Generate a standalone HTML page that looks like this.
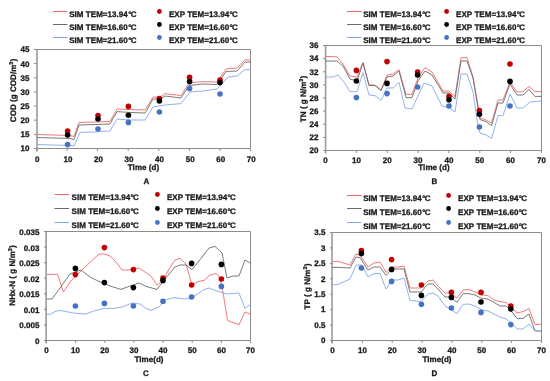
<!DOCTYPE html>
<html><head><meta charset="utf-8"><style>
html,body{margin:0;padding:0;background:#fff;width:550px;height:381px;overflow:hidden}
svg{display:block;will-change:transform;filter:blur(0.3px)}
svg{text-rendering:geometricPrecision;-webkit-font-smoothing:antialiased}
text{font-family:"Liberation Sans",sans-serif;font-weight:bold;fill:#1a1a1a;stroke:#1a1a1a;stroke-width:0.3px;letter-spacing:0.05px}
</style></head><body>
<svg width="550" height="381" viewBox="0 0 550 381">
<rect width="550" height="381" fill="#fff"/>
<line x1="53" y1="11.5" x2="67.5" y2="11.5" stroke="#EC6A6C" stroke-width="1"/>
<text x="69.2" y="17.3" text-anchor="start" font-size="8" >SIM TEM=13.94<tspan dx="0.3">°</tspan><tspan dx="-0.8">C</tspan></text>
<circle cx="159.4" cy="11.5" r="2.4" fill="#C00000"/>
<text x="168.9" y="17.3" text-anchor="start" font-size="8" >EXP TEM=13.94<tspan dx="0.3">°</tspan><tspan dx="-0.8">C</tspan></text>
<line x1="53" y1="24.5" x2="67.5" y2="24.5" stroke="#6A6A6A" stroke-width="1"/>
<text x="69.2" y="30.3" text-anchor="start" font-size="8" >SIM TEM=16.60<tspan dx="0.3">°</tspan><tspan dx="-0.8">C</tspan></text>
<circle cx="159.4" cy="24.5" r="2.4" fill="#000000"/>
<text x="168.9" y="30.3" text-anchor="start" font-size="8" >EXP TEM=16.60<tspan dx="0.3">°</tspan><tspan dx="-0.8">C</tspan></text>
<line x1="53" y1="37.5" x2="67.5" y2="37.5" stroke="#86A8EA" stroke-width="1"/>
<text x="69.2" y="43.3" text-anchor="start" font-size="8" >SIM TEM=21.60<tspan dx="0.3">°</tspan><tspan dx="-0.8">C</tspan></text>
<circle cx="159.4" cy="37.5" r="2.4" fill="#4472C4"/>
<text x="168.9" y="43.3" text-anchor="start" font-size="8" >EXP TEM=21.60<tspan dx="0.3">°</tspan><tspan dx="-0.8">C</tspan></text>
<polyline points="36.5,49.5 250.5,49.5 250.5,148.5 34.0,148.5" fill="none" stroke="#8C8C8C" stroke-width="1"/>
<line x1="37.0" y1="49.0" x2="37.0" y2="151.5" stroke="#9A9A9A" stroke-width="1.6"/>
<line x1="34.0" y1="148.5" x2="36.5" y2="148.5" stroke="#8C8C8C" stroke-width="1"/>
<text x="29.5" y="151.4" text-anchor="end" font-size="8" >10</text>
<line x1="34.0" y1="134.4" x2="36.5" y2="134.4" stroke="#8C8C8C" stroke-width="1"/>
<text x="29.5" y="137.3" text-anchor="end" font-size="8" >15</text>
<line x1="34.0" y1="120.2" x2="36.5" y2="120.2" stroke="#8C8C8C" stroke-width="1"/>
<text x="29.5" y="123.1" text-anchor="end" font-size="8" >20</text>
<line x1="34.0" y1="106.1" x2="36.5" y2="106.1" stroke="#8C8C8C" stroke-width="1"/>
<text x="29.5" y="109.0" text-anchor="end" font-size="8" >25</text>
<line x1="34.0" y1="91.9" x2="36.5" y2="91.9" stroke="#8C8C8C" stroke-width="1"/>
<text x="29.5" y="94.8" text-anchor="end" font-size="8" >30</text>
<line x1="34.0" y1="77.8" x2="36.5" y2="77.8" stroke="#8C8C8C" stroke-width="1"/>
<text x="29.5" y="80.7" text-anchor="end" font-size="8" >35</text>
<line x1="34.0" y1="63.6" x2="36.5" y2="63.6" stroke="#8C8C8C" stroke-width="1"/>
<text x="29.5" y="66.5" text-anchor="end" font-size="8" >40</text>
<line x1="34.0" y1="49.5" x2="36.5" y2="49.5" stroke="#8C8C8C" stroke-width="1"/>
<text x="29.5" y="52.4" text-anchor="end" font-size="8" >45</text>
<line x1="36.5" y1="148.5" x2="36.5" y2="151.0" stroke="#8C8C8C" stroke-width="1"/>
<text x="37.3" y="162.0" text-anchor="middle" font-size="8" >0</text>
<line x1="67.1" y1="148.5" x2="67.1" y2="151.0" stroke="#8C8C8C" stroke-width="1"/>
<text x="67.9" y="162.0" text-anchor="middle" font-size="8" >10</text>
<line x1="97.6" y1="148.5" x2="97.6" y2="151.0" stroke="#8C8C8C" stroke-width="1"/>
<text x="98.4" y="162.0" text-anchor="middle" font-size="8" >20</text>
<line x1="128.2" y1="148.5" x2="128.2" y2="151.0" stroke="#8C8C8C" stroke-width="1"/>
<text x="129.0" y="162.0" text-anchor="middle" font-size="8" >30</text>
<line x1="158.8" y1="148.5" x2="158.8" y2="151.0" stroke="#8C8C8C" stroke-width="1"/>
<text x="159.6" y="162.0" text-anchor="middle" font-size="8" >40</text>
<line x1="189.4" y1="148.5" x2="189.4" y2="151.0" stroke="#8C8C8C" stroke-width="1"/>
<text x="190.2" y="162.0" text-anchor="middle" font-size="8" >50</text>
<line x1="219.9" y1="148.5" x2="219.9" y2="151.0" stroke="#8C8C8C" stroke-width="1"/>
<text x="220.7" y="162.0" text-anchor="middle" font-size="8" >60</text>
<line x1="250.5" y1="148.5" x2="250.5" y2="151.0" stroke="#8C8C8C" stroke-width="1"/>
<text x="251.3" y="162.0" text-anchor="middle" font-size="8" >70</text>
<text transform="translate(15.5,90.5) rotate(-90)" text-anchor="middle" font-size="8">COD (g COD/m<tspan font-size="5.5" dy="-3">3</tspan><tspan dy="3">)</tspan></text>
<text x="143.5" y="169.8" text-anchor="middle" font-size="8" >Time (d)</text>
<text x="146.5" y="183.5" text-anchor="middle" font-size="8" >A</text>
<polyline points="37.0,134.5 70.0,135.5 74.0,136.5 79.0,122.5 95.0,122.0 110.0,121.5 117.0,109.0 130.0,109.5 145.0,110.0 147.0,107.0 153.0,97.0 160.0,97.0 165.0,93.6 181.0,95.5 189.0,83.0 203.0,81.6 217.0,82.0 226.0,69.0 237.0,68.0 245.0,59.6 251.0,60.0" fill="none" stroke="#EC6A6C" stroke-width="0.9" stroke-linejoin="round"/>
<polyline points="37.0,137.5 70.0,138.5 74.0,139.5 79.0,125.0 95.0,124.5 110.0,124.0 117.0,111.6 130.0,112.5 145.0,113.0 147.0,110.0 153.0,99.0 160.0,99.0 165.0,96.0 181.0,98.0 189.0,85.5 203.0,84.0 217.0,84.5 226.0,71.5 237.0,71.0 245.0,62.0 251.0,62.0" fill="none" stroke="#6A6A6A" stroke-width="0.9" stroke-linejoin="round"/>
<polyline points="37.0,144.5 70.0,145.5 74.0,146.0 80.0,132.4 95.0,132.0 110.0,131.0 117.0,119.0 130.0,120.0 145.0,120.0 147.0,117.0 153.0,107.0 165.0,105.0 181.0,103.6 190.0,92.0 203.0,91.0 217.0,89.0 228.0,77.0 237.0,76.0 245.0,69.6 251.0,69.6" fill="none" stroke="#86A8EA" stroke-width="0.9" stroke-linejoin="round"/>
<circle cx="67.6" cy="131.0" r="2.8" fill="#C00000"/>
<circle cx="67.6" cy="135.0" r="2.8" fill="#000000"/>
<circle cx="67.6" cy="144.6" r="2.8" fill="#4472C4"/>
<circle cx="98.0" cy="115.6" r="2.8" fill="#C00000"/>
<circle cx="98.0" cy="119.0" r="2.8" fill="#000000"/>
<circle cx="98.0" cy="129.0" r="2.8" fill="#4472C4"/>
<circle cx="128.4" cy="106.4" r="2.8" fill="#C00000"/>
<circle cx="128.4" cy="115.2" r="2.8" fill="#000000"/>
<circle cx="128.4" cy="122.4" r="2.8" fill="#4472C4"/>
<circle cx="159.4" cy="98.6" r="2.8" fill="#C00000"/>
<circle cx="159.4" cy="101.0" r="2.8" fill="#000000"/>
<circle cx="159.4" cy="112.0" r="2.8" fill="#4472C4"/>
<circle cx="189.6" cy="77.4" r="2.8" fill="#C00000"/>
<circle cx="189.6" cy="81.6" r="2.8" fill="#000000"/>
<circle cx="189.6" cy="88.6" r="2.8" fill="#4472C4"/>
<circle cx="220.0" cy="80.0" r="2.8" fill="#C00000"/>
<circle cx="220.0" cy="82.6" r="2.8" fill="#000000"/>
<circle cx="220.0" cy="94.0" r="2.8" fill="#4472C4"/>
<line x1="347" y1="11.5" x2="361.5" y2="11.5" stroke="#EC6A6C" stroke-width="1"/>
<text x="363.2" y="17.3" text-anchor="start" font-size="8" >SIM TEM=13.94<tspan dx="0.3">°</tspan><tspan dx="-0.8">C</tspan></text>
<circle cx="446.6" cy="11.5" r="2.4" fill="#C00000"/>
<text x="456.1" y="17.3" text-anchor="start" font-size="8" >EXP TEM=13.94<tspan dx="0.3">°</tspan><tspan dx="-0.8">C</tspan></text>
<line x1="347" y1="24.5" x2="361.5" y2="24.5" stroke="#6A6A6A" stroke-width="1"/>
<text x="363.2" y="30.3" text-anchor="start" font-size="8" >SIM TEM=16.60<tspan dx="0.3">°</tspan><tspan dx="-0.8">C</tspan></text>
<circle cx="446.6" cy="24.5" r="2.4" fill="#000000"/>
<text x="456.1" y="30.3" text-anchor="start" font-size="8" >EXP TEM=16.60<tspan dx="0.3">°</tspan><tspan dx="-0.8">C</tspan></text>
<line x1="347" y1="37.5" x2="361.5" y2="37.5" stroke="#86A8EA" stroke-width="1"/>
<text x="363.2" y="43.3" text-anchor="start" font-size="8" >SIM TEM=21.60<tspan dx="0.3">°</tspan><tspan dx="-0.8">C</tspan></text>
<circle cx="446.6" cy="37.5" r="2.4" fill="#4472C4"/>
<text x="456.1" y="43.3" text-anchor="start" font-size="8" >EXP TEM=21.60<tspan dx="0.3">°</tspan><tspan dx="-0.8">C</tspan></text>
<polyline points="325.5,45.5 541.5,45.5 541.5,150.5 323.0,150.5" fill="none" stroke="#8C8C8C" stroke-width="1"/>
<line x1="325.6" y1="45.0" x2="325.6" y2="153.5" stroke="#9A9A9A" stroke-width="1.6"/>
<line x1="323.0" y1="150.5" x2="325.5" y2="150.5" stroke="#8C8C8C" stroke-width="1"/>
<text x="318.5" y="153.3" text-anchor="end" font-size="8" >20</text>
<line x1="323.0" y1="137.4" x2="325.5" y2="137.4" stroke="#8C8C8C" stroke-width="1"/>
<text x="318.5" y="140.2" text-anchor="end" font-size="8" >22</text>
<line x1="323.0" y1="124.2" x2="325.5" y2="124.2" stroke="#8C8C8C" stroke-width="1"/>
<text x="318.5" y="127.0" text-anchor="end" font-size="8" >24</text>
<line x1="323.0" y1="111.1" x2="325.5" y2="111.1" stroke="#8C8C8C" stroke-width="1"/>
<text x="318.5" y="113.9" text-anchor="end" font-size="8" >26</text>
<line x1="323.0" y1="98.0" x2="325.5" y2="98.0" stroke="#8C8C8C" stroke-width="1"/>
<text x="318.5" y="100.8" text-anchor="end" font-size="8" >28</text>
<line x1="323.0" y1="84.9" x2="325.5" y2="84.9" stroke="#8C8C8C" stroke-width="1"/>
<text x="318.5" y="87.7" text-anchor="end" font-size="8" >30</text>
<line x1="323.0" y1="71.8" x2="325.5" y2="71.8" stroke="#8C8C8C" stroke-width="1"/>
<text x="318.5" y="74.5" text-anchor="end" font-size="8" >32</text>
<line x1="323.0" y1="58.6" x2="325.5" y2="58.6" stroke="#8C8C8C" stroke-width="1"/>
<text x="318.5" y="61.4" text-anchor="end" font-size="8" >34</text>
<line x1="323.0" y1="45.5" x2="325.5" y2="45.5" stroke="#8C8C8C" stroke-width="1"/>
<text x="318.5" y="48.3" text-anchor="end" font-size="8" >36</text>
<line x1="325.5" y1="150.5" x2="325.5" y2="153.0" stroke="#8C8C8C" stroke-width="1"/>
<text x="325.5" y="163.1" text-anchor="middle" font-size="8" >0</text>
<line x1="356.4" y1="150.5" x2="356.4" y2="153.0" stroke="#8C8C8C" stroke-width="1"/>
<text x="356.4" y="163.1" text-anchor="middle" font-size="8" >10</text>
<line x1="387.2" y1="150.5" x2="387.2" y2="153.0" stroke="#8C8C8C" stroke-width="1"/>
<text x="387.2" y="163.1" text-anchor="middle" font-size="8" >20</text>
<line x1="418.1" y1="150.5" x2="418.1" y2="153.0" stroke="#8C8C8C" stroke-width="1"/>
<text x="418.1" y="163.1" text-anchor="middle" font-size="8" >30</text>
<line x1="448.9" y1="150.5" x2="448.9" y2="153.0" stroke="#8C8C8C" stroke-width="1"/>
<text x="448.9" y="163.1" text-anchor="middle" font-size="8" >40</text>
<line x1="479.8" y1="150.5" x2="479.8" y2="153.0" stroke="#8C8C8C" stroke-width="1"/>
<text x="479.8" y="163.1" text-anchor="middle" font-size="8" >50</text>
<line x1="510.6" y1="150.5" x2="510.6" y2="153.0" stroke="#8C8C8C" stroke-width="1"/>
<text x="510.6" y="163.1" text-anchor="middle" font-size="8" >60</text>
<line x1="541.5" y1="150.5" x2="541.5" y2="153.0" stroke="#8C8C8C" stroke-width="1"/>
<text x="541.5" y="163.1" text-anchor="middle" font-size="8" >70</text>
<text transform="translate(305.5,99) rotate(-90)" text-anchor="middle" font-size="8">TN ( g N/m<tspan font-size="5.5" dy="-3">3</tspan><tspan dy="3">)</tspan></text>
<text x="434.0" y="169.8" text-anchor="middle" font-size="8" >Time (d)</text>
<text x="434.5" y="183.5" text-anchor="middle" font-size="8" >B</text>
<polyline points="325.5,56.4 337.0,56.8 343.0,64.0 350.0,76.0 357.0,77.0 363.0,62.4 369.0,85.0 375.0,85.0 381.0,90.0 387.0,75.0 393.0,74.0 399.0,69.6 406.0,94.4 412.0,94.4 418.0,78.0 425.0,67.6 432.0,72.0 443.0,91.0 449.0,91.0 455.0,96.4 461.0,57.6 467.0,57.6 473.0,77.0 479.0,111.0 480.0,118.0 486.0,120.0 491.6,123.0 498.0,100.0 503.0,100.0 510.0,82.0 517.0,92.0 523.0,91.6 529.0,86.4 535.0,91.6 541.0,91.6" fill="none" stroke="#EC6A6C" stroke-width="0.9" stroke-linejoin="round"/>
<polyline points="325.5,61.0 337.0,61.0 343.0,66.0 350.0,79.0 357.0,81.0 363.0,63.0 369.0,85.5 375.0,85.5 381.0,90.5 387.0,77.0 393.0,76.0 399.0,71.0 406.0,97.6 412.0,97.6 418.0,81.0 425.0,71.0 432.0,75.0 443.0,93.0 449.0,93.0 455.0,99.0 461.0,61.0 467.0,61.0 473.0,78.0 479.0,114.0 480.0,119.6 486.0,121.6 491.6,125.6 498.0,103.0 503.0,103.0 510.0,84.0 517.0,95.0 523.0,95.0 529.0,89.6 535.0,96.4 541.0,96.4" fill="none" stroke="#6A6A6A" stroke-width="0.9" stroke-linejoin="round"/>
<polyline points="325.5,77.0 333.0,77.0 338.0,75.0 344.0,82.0 350.0,91.6 357.0,91.6 363.0,72.6 369.0,95.0 375.0,95.6 381.0,100.4 387.0,88.0 393.0,88.0 399.0,82.4 405.0,108.0 412.0,109.0 418.0,96.0 424.0,83.0 432.0,86.0 442.0,106.0 449.0,107.6 455.0,112.0 461.0,74.0 467.0,74.0 473.0,92.0 478.0,126.0 480.0,133.0 486.0,135.0 491.6,138.4 498.0,115.6 503.0,115.6 510.0,94.0 517.0,108.0 523.0,108.0 530.0,102.0 541.0,101.0" fill="none" stroke="#86A8EA" stroke-width="0.9" stroke-linejoin="round"/>
<circle cx="356.4" cy="70.4" r="2.8" fill="#C00000"/>
<circle cx="356.4" cy="81.0" r="2.8" fill="#000000"/>
<circle cx="356.4" cy="97.6" r="2.8" fill="#4472C4"/>
<circle cx="387.0" cy="61.6" r="2.8" fill="#C00000"/>
<circle cx="387.0" cy="83.4" r="2.8" fill="#000000"/>
<circle cx="387.0" cy="93.6" r="2.8" fill="#4472C4"/>
<circle cx="417.6" cy="72.0" r="2.8" fill="#C00000"/>
<circle cx="417.6" cy="75.0" r="2.8" fill="#000000"/>
<circle cx="417.6" cy="87.0" r="2.8" fill="#4472C4"/>
<circle cx="449.0" cy="96.2" r="2.8" fill="#C00000"/>
<circle cx="449.0" cy="99.8" r="2.8" fill="#000000"/>
<circle cx="449.0" cy="106.0" r="2.8" fill="#4472C4"/>
<circle cx="479.4" cy="110.6" r="2.8" fill="#C00000"/>
<circle cx="479.4" cy="114.2" r="2.8" fill="#000000"/>
<circle cx="479.4" cy="127.0" r="2.8" fill="#4472C4"/>
<circle cx="510.0" cy="64.0" r="2.8" fill="#C00000"/>
<circle cx="510.0" cy="81.4" r="2.8" fill="#000000"/>
<circle cx="510.0" cy="106.0" r="2.8" fill="#4472C4"/>
<line x1="54.5" y1="194.5" x2="69.0" y2="194.5" stroke="#EC6A6C" stroke-width="1"/>
<text x="71.5" y="200.2" text-anchor="start" font-size="8" >SIM TEM=13.94<tspan dx="0.3">°</tspan><tspan dx="-0.8">C</tspan></text>
<circle cx="157.4" cy="194.5" r="2.4" fill="#C00000"/>
<text x="166.9" y="200.2" text-anchor="start" font-size="8" >EXP TEM=13.94<tspan dx="0.3">°</tspan><tspan dx="-0.8">C</tspan></text>
<line x1="54.5" y1="208.5" x2="69.0" y2="208.5" stroke="#6A6A6A" stroke-width="1"/>
<text x="71.5" y="214.2" text-anchor="start" font-size="8" >SIM TEM=16.60<tspan dx="0.3">°</tspan><tspan dx="-0.8">C</tspan></text>
<circle cx="157.4" cy="208.5" r="2.4" fill="#000000"/>
<text x="166.9" y="214.2" text-anchor="start" font-size="8" >EXP TEM=16.60<tspan dx="0.3">°</tspan><tspan dx="-0.8">C</tspan></text>
<line x1="54.5" y1="222.5" x2="69.0" y2="222.5" stroke="#86A8EA" stroke-width="1"/>
<text x="71.5" y="228.2" text-anchor="start" font-size="8" >SIM TEM=21.60<tspan dx="0.3">°</tspan><tspan dx="-0.8">C</tspan></text>
<circle cx="157.4" cy="222.5" r="2.4" fill="#4472C4"/>
<text x="166.9" y="228.2" text-anchor="start" font-size="8" >EXP TEM=21.60<tspan dx="0.3">°</tspan><tspan dx="-0.8">C</tspan></text>
<polyline points="46.5,231.5 250.5,231.5 250.5,340.5 44.0,340.5" fill="none" stroke="#8C8C8C" stroke-width="1"/>
<line x1="46.1" y1="231.0" x2="46.1" y2="343.5" stroke="#9A9A9A" stroke-width="1.6"/>
<line x1="44.0" y1="340.5" x2="46.5" y2="340.5" stroke="#8C8C8C" stroke-width="1"/>
<text x="39.5" y="344.0" text-anchor="end" font-size="8" >0</text>
<line x1="44.0" y1="324.9" x2="46.5" y2="324.9" stroke="#8C8C8C" stroke-width="1"/>
<text x="39.5" y="328.4" text-anchor="end" font-size="8" >0.005</text>
<line x1="44.0" y1="309.4" x2="46.5" y2="309.4" stroke="#8C8C8C" stroke-width="1"/>
<text x="39.5" y="312.9" text-anchor="end" font-size="8" >0.01</text>
<line x1="44.0" y1="293.8" x2="46.5" y2="293.8" stroke="#8C8C8C" stroke-width="1"/>
<text x="39.5" y="297.3" text-anchor="end" font-size="8" >0.015</text>
<line x1="44.0" y1="278.2" x2="46.5" y2="278.2" stroke="#8C8C8C" stroke-width="1"/>
<text x="39.5" y="281.7" text-anchor="end" font-size="8" >0.02</text>
<line x1="44.0" y1="262.6" x2="46.5" y2="262.6" stroke="#8C8C8C" stroke-width="1"/>
<text x="39.5" y="266.1" text-anchor="end" font-size="8" >0.025</text>
<line x1="44.0" y1="247.1" x2="46.5" y2="247.1" stroke="#8C8C8C" stroke-width="1"/>
<text x="39.5" y="250.6" text-anchor="end" font-size="8" >0.03</text>
<line x1="44.0" y1="231.5" x2="46.5" y2="231.5" stroke="#8C8C8C" stroke-width="1"/>
<text x="39.5" y="235.0" text-anchor="end" font-size="8" >0.035</text>
<line x1="46.5" y1="340.5" x2="46.5" y2="343.0" stroke="#8C8C8C" stroke-width="1"/>
<text x="46.5" y="353.2" text-anchor="middle" font-size="8" >0</text>
<line x1="75.6" y1="340.5" x2="75.6" y2="343.0" stroke="#8C8C8C" stroke-width="1"/>
<text x="75.6" y="353.2" text-anchor="middle" font-size="8" >10</text>
<line x1="104.8" y1="340.5" x2="104.8" y2="343.0" stroke="#8C8C8C" stroke-width="1"/>
<text x="104.8" y="353.2" text-anchor="middle" font-size="8" >20</text>
<line x1="133.9" y1="340.5" x2="133.9" y2="343.0" stroke="#8C8C8C" stroke-width="1"/>
<text x="133.9" y="353.2" text-anchor="middle" font-size="8" >30</text>
<line x1="163.1" y1="340.5" x2="163.1" y2="343.0" stroke="#8C8C8C" stroke-width="1"/>
<text x="163.1" y="353.2" text-anchor="middle" font-size="8" >40</text>
<line x1="192.2" y1="340.5" x2="192.2" y2="343.0" stroke="#8C8C8C" stroke-width="1"/>
<text x="192.2" y="353.2" text-anchor="middle" font-size="8" >50</text>
<line x1="221.4" y1="340.5" x2="221.4" y2="343.0" stroke="#8C8C8C" stroke-width="1"/>
<text x="221.4" y="353.2" text-anchor="middle" font-size="8" >60</text>
<line x1="250.5" y1="340.5" x2="250.5" y2="343.0" stroke="#8C8C8C" stroke-width="1"/>
<text x="250.5" y="353.2" text-anchor="middle" font-size="8" >70</text>
<text transform="translate(14.5,275.5) rotate(-90)" text-anchor="middle" font-size="8">NHx-N ( g N/m<tspan font-size="5.5" dy="-3">3</tspan><tspan dy="3">)</tspan></text>
<text x="149.0" y="362.0" text-anchor="middle" font-size="8" >Time(d)</text>
<text x="146.0" y="376.0" text-anchor="middle" font-size="8" >C</text>
<polyline points="46.5,274.4 57.6,274.4 63.4,292.0 70.0,282.0 84.0,268.0 99.0,254.0 104.0,254.0 110.0,256.0 116.0,262.0 122.0,270.0 127.0,270.0 133.0,269.4 139.0,268.0 145.0,272.0 151.0,276.0 157.0,285.0 163.0,281.0 169.0,269.0 175.0,260.0 180.0,258.4 186.0,264.0 192.0,285.0 198.0,281.6 204.0,280.4 210.0,275.0 216.0,273.6 219.0,276.0 222.0,286.0 227.5,320.5 239.0,324.6 245.0,312.0 251.0,314.4" fill="none" stroke="#EC6A6C" stroke-width="0.9" stroke-linejoin="round"/>
<polyline points="46.5,299.0 52.0,299.0 60.0,288.0 70.0,274.0 81.0,270.0 90.0,277.0 98.0,281.0 110.0,286.0 121.0,289.4 130.0,286.0 139.0,283.0 146.0,286.4 157.0,289.4 165.0,279.0 175.0,267.0 180.0,265.0 186.0,265.0 192.0,269.6 199.0,261.0 209.0,248.0 215.0,246.4 222.0,253.0 227.0,278.0 233.0,276.0 239.0,276.0 245.0,260.0 251.0,263.6" fill="none" stroke="#6A6A6A" stroke-width="0.9" stroke-linejoin="round"/>
<polyline points="46.5,314.4 50.0,314.4 55.0,311.6 60.0,310.4 66.0,311.6 76.0,313.4 86.0,314.0 94.0,311.0 104.0,308.4 114.0,308.4 122.0,307.0 132.0,303.0 140.0,304.0 146.0,308.4 151.0,310.4 159.0,307.0 165.0,300.0 174.0,297.6 185.0,299.0 192.0,298.0 203.0,290.0 209.0,288.0 217.0,291.0 227.0,294.0 239.0,293.0 245.0,308.4 251.0,304.0" fill="none" stroke="#86A8EA" stroke-width="0.9" stroke-linejoin="round"/>
<circle cx="75.4" cy="274.6" r="2.8" fill="#C00000"/>
<circle cx="75.4" cy="268.4" r="2.8" fill="#000000"/>
<circle cx="75.4" cy="306.0" r="2.8" fill="#4472C4"/>
<circle cx="104.4" cy="247.6" r="2.8" fill="#C00000"/>
<circle cx="104.4" cy="282.6" r="2.8" fill="#000000"/>
<circle cx="104.4" cy="303.4" r="2.8" fill="#4472C4"/>
<circle cx="133.4" cy="269.6" r="2.8" fill="#C00000"/>
<circle cx="133.4" cy="287.6" r="2.8" fill="#000000"/>
<circle cx="133.4" cy="306.0" r="2.8" fill="#4472C4"/>
<circle cx="163.0" cy="278.0" r="2.8" fill="#C00000"/>
<circle cx="163.0" cy="280.4" r="2.8" fill="#000000"/>
<circle cx="163.0" cy="301.2" r="2.8" fill="#4472C4"/>
<circle cx="191.6" cy="285.0" r="2.8" fill="#C00000"/>
<circle cx="191.6" cy="263.4" r="2.8" fill="#000000"/>
<circle cx="191.6" cy="297.0" r="2.8" fill="#4472C4"/>
<circle cx="221.4" cy="279.0" r="2.8" fill="#C00000"/>
<circle cx="221.4" cy="264.4" r="2.8" fill="#000000"/>
<circle cx="221.4" cy="286.4" r="2.8" fill="#4472C4"/>
<line x1="347" y1="195.5" x2="361.5" y2="195.5" stroke="#EC6A6C" stroke-width="1"/>
<text x="363.2" y="200.7" text-anchor="start" font-size="8" >SIM TEM=13.94<tspan dx="0.3">°</tspan><tspan dx="-0.8">C</tspan></text>
<circle cx="448.6" cy="195.5" r="2.4" fill="#C00000"/>
<text x="458.1" y="200.7" text-anchor="start" font-size="8" >EXP TEM=13.94<tspan dx="0.3">°</tspan><tspan dx="-0.8">C</tspan></text>
<line x1="347" y1="208.5" x2="361.5" y2="208.5" stroke="#6A6A6A" stroke-width="1"/>
<text x="363.2" y="214.7" text-anchor="start" font-size="8" >SIM TEM=16.60<tspan dx="0.3">°</tspan><tspan dx="-0.8">C</tspan></text>
<circle cx="448.6" cy="208.5" r="2.4" fill="#000000"/>
<text x="458.1" y="214.7" text-anchor="start" font-size="8" >EXP TEM=16.60<tspan dx="0.3">°</tspan><tspan dx="-0.8">C</tspan></text>
<line x1="347" y1="222.5" x2="361.5" y2="222.5" stroke="#86A8EA" stroke-width="1"/>
<text x="363.2" y="228.7" text-anchor="start" font-size="8" >SIM TEM=21.60<tspan dx="0.3">°</tspan><tspan dx="-0.8">C</tspan></text>
<circle cx="448.6" cy="222.5" r="2.4" fill="#4472C4"/>
<text x="458.1" y="228.7" text-anchor="start" font-size="8" >EXP TEM=21.60<tspan dx="0.3">°</tspan><tspan dx="-0.8">C</tspan></text>
<polyline points="332.5,232.5 541.5,232.5 541.5,340.5 330.0,340.5" fill="none" stroke="#8C8C8C" stroke-width="1"/>
<line x1="332.0" y1="232.0" x2="332.0" y2="343.5" stroke="#9A9A9A" stroke-width="1.6"/>
<line x1="330.0" y1="340.5" x2="332.5" y2="340.5" stroke="#8C8C8C" stroke-width="1"/>
<text x="325.5" y="343.3" text-anchor="end" font-size="8" >0</text>
<line x1="330.0" y1="325.1" x2="332.5" y2="325.1" stroke="#8C8C8C" stroke-width="1"/>
<text x="325.5" y="327.9" text-anchor="end" font-size="8" >0.5</text>
<line x1="330.0" y1="309.6" x2="332.5" y2="309.6" stroke="#8C8C8C" stroke-width="1"/>
<text x="325.5" y="312.4" text-anchor="end" font-size="8" >1</text>
<line x1="330.0" y1="294.2" x2="332.5" y2="294.2" stroke="#8C8C8C" stroke-width="1"/>
<text x="325.5" y="297.0" text-anchor="end" font-size="8" >1.5</text>
<line x1="330.0" y1="278.8" x2="332.5" y2="278.8" stroke="#8C8C8C" stroke-width="1"/>
<text x="325.5" y="281.6" text-anchor="end" font-size="8" >2</text>
<line x1="330.0" y1="263.4" x2="332.5" y2="263.4" stroke="#8C8C8C" stroke-width="1"/>
<text x="325.5" y="266.2" text-anchor="end" font-size="8" >2.5</text>
<line x1="330.0" y1="247.9" x2="332.5" y2="247.9" stroke="#8C8C8C" stroke-width="1"/>
<text x="325.5" y="250.7" text-anchor="end" font-size="8" >3</text>
<line x1="330.0" y1="232.5" x2="332.5" y2="232.5" stroke="#8C8C8C" stroke-width="1"/>
<text x="325.5" y="235.3" text-anchor="end" font-size="8" >3.5</text>
<line x1="332.5" y1="340.5" x2="332.5" y2="343.0" stroke="#8C8C8C" stroke-width="1"/>
<text x="332.5" y="352.9" text-anchor="middle" font-size="8" >0</text>
<line x1="362.4" y1="340.5" x2="362.4" y2="343.0" stroke="#8C8C8C" stroke-width="1"/>
<text x="362.4" y="352.9" text-anchor="middle" font-size="8" >10</text>
<line x1="392.2" y1="340.5" x2="392.2" y2="343.0" stroke="#8C8C8C" stroke-width="1"/>
<text x="392.2" y="352.9" text-anchor="middle" font-size="8" >20</text>
<line x1="422.1" y1="340.5" x2="422.1" y2="343.0" stroke="#8C8C8C" stroke-width="1"/>
<text x="422.1" y="352.9" text-anchor="middle" font-size="8" >30</text>
<line x1="451.9" y1="340.5" x2="451.9" y2="343.0" stroke="#8C8C8C" stroke-width="1"/>
<text x="451.9" y="352.9" text-anchor="middle" font-size="8" >40</text>
<line x1="481.8" y1="340.5" x2="481.8" y2="343.0" stroke="#8C8C8C" stroke-width="1"/>
<text x="481.8" y="352.9" text-anchor="middle" font-size="8" >50</text>
<line x1="511.6" y1="340.5" x2="511.6" y2="343.0" stroke="#8C8C8C" stroke-width="1"/>
<text x="511.6" y="352.9" text-anchor="middle" font-size="8" >60</text>
<line x1="541.5" y1="340.5" x2="541.5" y2="343.0" stroke="#8C8C8C" stroke-width="1"/>
<text x="541.5" y="352.9" text-anchor="middle" font-size="8" >70</text>
<text transform="translate(309.5,286.5) rotate(-90)" text-anchor="middle" font-size="8">TP ( g N/m<tspan font-size="5.5" dy="-3">3</tspan><tspan dy="3">)</tspan></text>
<text x="437.0" y="362.0" text-anchor="middle" font-size="8" >Time(d)</text>
<text x="434.5" y="376.0" text-anchor="middle" font-size="8" >D</text>
<polyline points="332.5,261.4 338.0,261.4 350.0,265.0 356.0,254.0 360.0,255.0 368.0,267.0 374.0,263.0 380.0,262.0 386.0,272.4 392.0,267.0 398.0,267.0 404.0,266.0 410.0,288.0 421.0,288.0 428.0,281.0 433.0,280.0 438.0,286.0 445.0,293.0 450.0,293.0 457.0,298.0 463.0,290.0 469.0,289.6 475.0,292.0 482.0,295.0 488.0,295.6 494.0,300.0 500.0,301.6 506.0,302.4 512.0,308.0 517.0,313.0 523.0,311.6 529.0,308.6 535.0,324.4 541.0,324.4" fill="none" stroke="#EC6A6C" stroke-width="0.9" stroke-linejoin="round"/>
<polyline points="332.5,267.4 338.0,267.4 350.0,268.0 356.0,257.0 360.0,257.6 368.0,270.0 374.0,267.0 380.0,267.0 386.0,275.4 392.0,269.0 398.0,269.0 404.0,269.0 410.0,292.0 421.0,292.0 428.0,284.0 433.0,284.0 438.0,289.0 445.0,297.0 450.0,297.0 457.0,302.4 463.0,293.6 469.0,293.6 475.0,295.0 482.0,298.6 488.0,299.0 494.0,302.4 500.0,306.0 506.0,306.0 512.0,312.0 517.0,318.4 523.0,318.4 529.0,314.0 535.0,331.0 541.0,331.0" fill="none" stroke="#6A6A6A" stroke-width="0.9" stroke-linejoin="round"/>
<polyline points="332.5,284.6 338.0,284.6 350.0,279.0 356.0,265.0 362.0,265.0 368.0,277.0 374.0,273.6 380.0,273.6 386.0,289.0 392.0,280.0 398.0,280.0 404.0,278.0 410.0,300.4 421.0,301.6 428.0,294.0 433.0,293.0 438.0,296.0 445.0,306.0 450.0,309.0 457.0,313.6 463.0,304.4 469.0,304.0 475.0,306.0 482.0,310.0 488.0,311.0 494.0,314.0 500.0,317.0 506.0,319.0 512.0,324.0 517.0,329.0 523.0,329.0 529.0,324.0 535.0,331.0 541.0,331.0" fill="none" stroke="#86A8EA" stroke-width="0.9" stroke-linejoin="round"/>
<circle cx="361.4" cy="250.6" r="2.8" fill="#C00000"/>
<circle cx="361.4" cy="253.6" r="2.8" fill="#000000"/>
<circle cx="361.4" cy="268.0" r="2.8" fill="#4472C4"/>
<circle cx="391.6" cy="259.6" r="2.8" fill="#C00000"/>
<circle cx="391.6" cy="269.4" r="2.8" fill="#000000"/>
<circle cx="391.6" cy="281.4" r="2.8" fill="#4472C4"/>
<circle cx="421.4" cy="285.0" r="2.8" fill="#C00000"/>
<circle cx="421.4" cy="295.4" r="2.8" fill="#000000"/>
<circle cx="421.4" cy="304.2" r="2.8" fill="#4472C4"/>
<circle cx="451.4" cy="292.4" r="2.8" fill="#C00000"/>
<circle cx="451.4" cy="297.4" r="2.8" fill="#000000"/>
<circle cx="451.4" cy="308.0" r="2.8" fill="#4472C4"/>
<circle cx="481.0" cy="292.4" r="2.8" fill="#C00000"/>
<circle cx="481.0" cy="302.0" r="2.8" fill="#000000"/>
<circle cx="481.0" cy="312.4" r="2.8" fill="#4472C4"/>
<circle cx="510.8" cy="306.0" r="2.8" fill="#C00000"/>
<circle cx="510.8" cy="309.0" r="2.8" fill="#000000"/>
<circle cx="510.8" cy="324.6" r="2.8" fill="#4472C4"/>
</svg>
</body></html>
